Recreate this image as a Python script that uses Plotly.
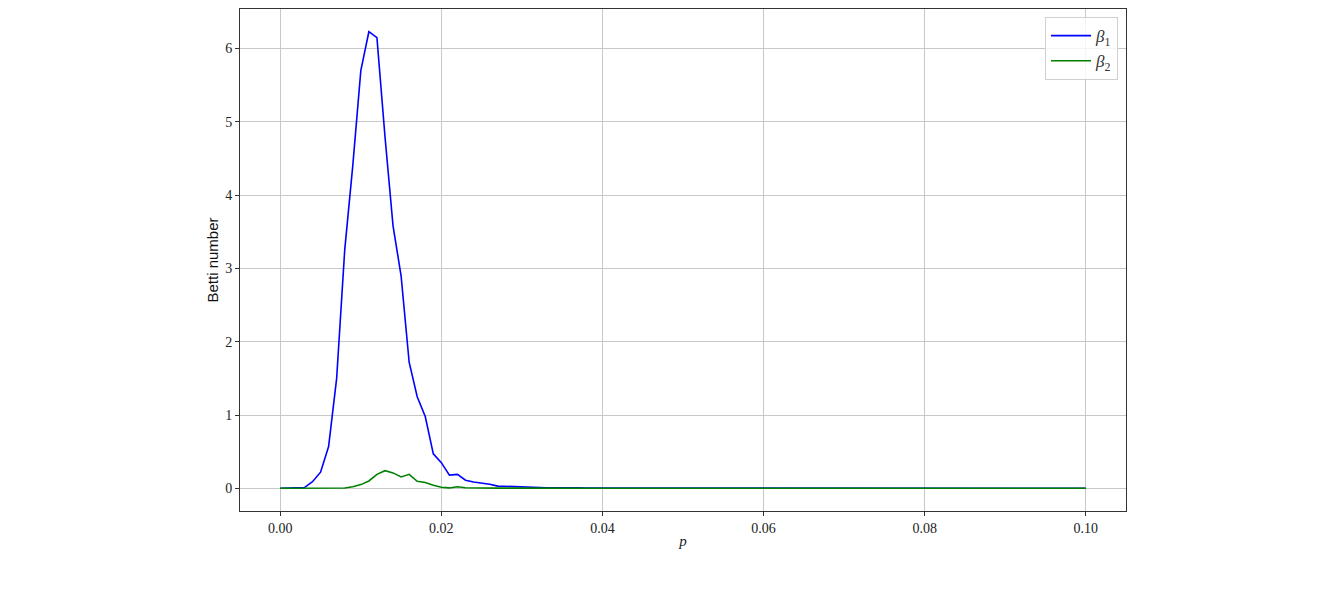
import numpy as np
import plotly.graph_objects as go

# probability values p = 0.000 ... 0.100 (step 0.001)
p_vals = np.round(np.arange(0, 101) * 0.001, 3)

# beta_1, first 45 points; rest are zero
beta1_head = [0.0, 0.0, 0.0, 0.01, 0.09, 0.22, 0.57, 1.5, 3.25, 4.4,
              5.7, 6.23, 6.15, 4.8, 3.58, 2.9, 1.72, 1.25, 0.98, 0.47,
              0.35, 0.18, 0.19, 0.11, 0.086, 0.075, 0.055, 0.03, 0.025, 0.02,
              0.015, 0.01, 0.012, 0.008, 0.008, 0.01, 0.008, 0.005, 0.004, 0.004,
              0.004, 0.003, 0.004, 0.006, 0.003]
beta2_head = [0.0, 0.0, 0.0, 0.0, 0.0, 0.0, 0.0, 0.002, 0.003, 0.02,
              0.05, 0.1, 0.19, 0.24, 0.21, 0.155, 0.19, 0.095, 0.08, 0.04,
              0.015, 0.005, 0.02, 0.008, 0.004, 0.004, 0.003, 0.002, 0.002, 0.001]
beta1 = beta1_head + [0.0] * (len(p_vals) - len(beta1_head))
beta2 = beta2_head + [0.0] * (len(p_vals) - len(beta2_head))

x_ticks = [0.0, 0.02, 0.04, 0.06, 0.08, 0.10]
x_tick_text = ["0.00", "0.02", "0.04", "0.06", "0.08", "0.10"]
y_ticks = [0, 1, 2, 3, 4, 5, 6]

serif = "Liberation Serif"

fig = go.Figure()
fig.add_trace(go.Scatter(x=p_vals, y=beta1, mode="lines",
                         line=dict(color="blue", width=1.6),
                         name="<i>β</i><sub>1</sub>"))
fig.add_trace(go.Scatter(x=p_vals, y=beta2, mode="lines",
                         line=dict(color="green", width=1.6),
                         name="<i>β</i><sub>2</sub>"))

fig.update_xaxes(range=[-0.005, 0.105], tickvals=x_ticks, ticktext=x_tick_text,
                 showgrid=True, gridcolor="#c8c8c8", gridwidth=1,
                 showline=True, linecolor="#333333", linewidth=1, mirror=True,
                 ticks="outside", ticklen=4, tickcolor="#333333",
                 zeroline=False,
                 tickfont=dict(family=serif, size=14, color="#222222"),
                 title=dict(text="<i>p</i>", font=dict(family=serif, size=15, color="#222222"),
                            standoff=0))
fig.update_yaxes(range=[-0.31, 6.54], tickvals=y_ticks,
                 showgrid=True, gridcolor="#c8c8c8", gridwidth=1,
                 showline=True, linecolor="#333333", linewidth=1, mirror=True,
                 ticks="outside", ticklen=4, tickcolor="#333333",
                 zeroline=False,
                 tickfont=dict(family=serif, size=14, color="#222222"),
                 title=dict(text="Betti number", font=dict(family="Liberation Sans", size=15, color="#111111"),
                            standoff=2))

fig.update_layout(width=1338, height=595,
                  paper_bgcolor="white", plot_bgcolor="white",
                  margin=dict(l=232, r=220, t=1, b=92),
                  showlegend=True,
                  legend=dict(x=0.991, y=0.984, xanchor="right", yanchor="top",
                              bgcolor="rgba(255,255,255,0.8)", bordercolor="#d0d0d0", borderwidth=1,
                              font=dict(family=serif, size=17, color="#333333"),
                              itemwidth=40, tracegroupgap=0))

fig.write_html("out.html")
